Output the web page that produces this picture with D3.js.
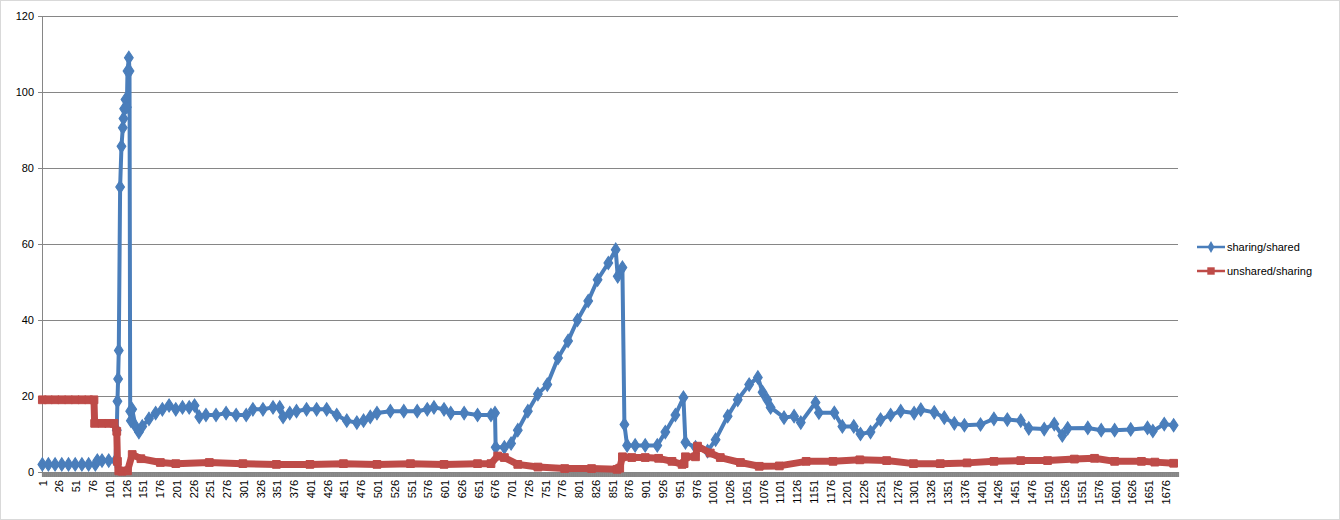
<!DOCTYPE html>
<html><head><meta charset="utf-8">
<script src="https://cdn.jsdelivr.net/npm/d3@7"></script>
<style>body{margin:0;background:#fff}svg{font-family:"Liberation Sans",Arial,sans-serif}</style>
</head><body><svg id="c" width="1340" height="520"></svg>
<script>
const N = 1694;
const yTicks = [0,20,40,60,80,100,120];
const seriesNames = ["sharing/shared","unshared/sharing"];
const colors = ["#4a7ebb","#be4b48"];
// sharing/shared: [category index, value]
const sharingIdx = [1,10,20,30,40,50,60,70,80,83,90,100,110,112,113,114,115,117,119,121,122,123,125,127,128,130,131,132,133,135,140,145,150,160,170,180,190,200,210,220,228,235,245,260,275,290,305,315,330,345,355,360,370,380,395,410,425,440,455,470,480,490,500,520,540,560,575,585,600,610,630,650,670,676,677,690,700,710,725,740,754,770,785,799,815,829,845,856,859,866,869,873,885,900,918,930,945,957,960,975,993,1005,1023,1038,1055,1068,1075,1082,1087,1107,1122,1132,1154,1159,1182,1194,1211,1221,1236,1251,1266,1281,1301,1311,1331,1346,1361,1376,1400,1420,1440,1460,1472,1495,1510,1522,1530,1560,1580,1600,1624,1649,1657,1674,1688];
const sharingVal = [2,2,2,2,2,2,2,2,2,3,3,3,3,11,18.6,24.5,32,75,85.7,90.6,93,95.6,98,96,105.5,109,105.5,16,13.5,16.5,12,10.5,12,14,15.5,16.5,17.5,16.5,17,17,17.5,14.5,15,15,15.5,15,15,16.5,16.5,17,17,14.5,15.5,16,16.5,16.5,16.5,15,13.5,13,13.5,14.5,15.5,16,16,16,16.5,17,16.5,15.5,15.5,15,15,15.5,6.5,6.5,7.5,11,16,20.5,23,30,34.5,40,45,50.6,55,58.5,51.5,53.8,12.5,7,7,7,7,10.5,15,19.6,7.8,6.5,5.5,8.5,14.7,19,23,24.9,21,19,17,14.3,14.7,13,18.3,15.6,15.6,12,12,10,10.5,13.8,15,16,15.5,16.4,15.7,14.3,12.8,12.3,12.5,14,13.8,13.5,11.5,11.3,12.6,9.6,11.5,11.6,11,11,11.2,11.6,10.8,12.6,12.3];
// unshared/sharing
const unsharedIdx = [1,10,20,30,40,50,60,70,78,79,90,100,108,112,113,115,120,128,135,148,177,200,250,300,350,400,450,500,550,600,650,670,680,690,710,740,780,820,858,862,866,880,900,920,940,955,958,960,975,978,997,1012,1042,1070,1100,1140,1180,1220,1260,1300,1340,1380,1420,1460,1500,1540,1570,1600,1640,1660,1688];
const unsharedVal = [19,19,19,19,19,19,19,19,19,12.8,12.8,12.8,12.8,10.7,2.8,0.3,0.2,0.3,4.6,3.5,2.5,2.2,2.5,2.2,2,2,2.2,2,2.2,2,2.2,2.2,4.2,3.8,2,1.3,0.9,0.9,0.7,1,4,3.8,3.8,3.6,2.8,2,2.2,4,4,6.8,5,3.8,2.5,1.5,1.6,2.8,2.8,3.2,3,2.2,2.2,2.4,2.8,3,3,3.4,3.6,2.8,2.8,2.6,2.3];

const svg = d3.select("#c");
svg.append("rect").attr("x",0.5).attr("y",0.5).attr("width",1339).attr("height",519).attr("fill","#fff").attr("stroke","#d9d9d9");
const L=42,R=1178,T=16,B=472;
const x = d3.scaleLinear().domain([0.5,N+0.5]).range([L,R]);
const y = d3.scaleLinear().domain([0,120]).range([B,T]);

svg.append("g").selectAll("line").data(yTicks.filter(d=>d>0)).join("line")
  .attr("x1",L).attr("x2",R).attr("y1",d=>y(d)+0.5).attr("y2",d=>y(d)+0.5).attr("stroke","#868686").attr("stroke-width",1);
svg.append("line").attr("x1",L+0.5).attr("x2",L+0.5).attr("y1",T).attr("y2",B).attr("stroke","#868686");
const ya = svg.append("g").attr("transform",`translate(${L},0)`).call(d3.axisLeft(y).tickValues(yTicks).tickSize(4).tickPadding(4));
ya.select(".domain").remove();
ya.selectAll("line").attr("stroke","#868686");
ya.selectAll("text").attr("font-size",11).attr("fill","#000");
// dense category ticks (form a solid band)
const allCats = d3.range(1,N+2);
const xa = svg.append("g").attr("transform",`translate(0,${B})`).call(d3.axisBottom(x).tickValues(allCats.map(d=>d-0.5)).tickSize(5).tickFormat(""));
xa.selectAll("line").attr("stroke","#868686").attr("stroke-width",1.2);
xa.select(".domain").attr("stroke","#868686");
const labCats = d3.range(1,N,25);
const xl = svg.append("g").attr("transform",`translate(0,${B})`).call(d3.axisBottom(x).tickValues(labCats).tickSize(0).tickPadding(0).tickFormat(d3.format("d")));
xl.select(".domain").remove();
xl.selectAll("text").attr("font-size",11).attr("fill","#000")
  .attr("transform","rotate(-90)").attr("text-anchor","end").attr("x",-8).attr("y",0).attr("dy","0.35em");

function drawSeries(idx, vals, color, shape, lw, msize){
  const pts = idx.map((d,i)=>[d,vals[i]]);
  const line = d3.line().x(d=>x(d[0])).y(d=>y(d[1]));
  svg.append("path").datum(pts).attr("d",line).attr("fill","none").attr("stroke",color).attr("stroke-width",lw).attr("stroke-linejoin","round");
  const sym = d3.symbol().type(shape).size(msize);
  svg.append("g").selectAll("path").data(pts).join("path")
    .attr("transform",d=>`translate(${x(d[0])},${y(d[1])})${shape===d3.symbolDiamond?" scale(1.15,1)":""}`)
    .attr("d",sym).attr("fill",color).attr("stroke",color).attr("stroke-width",1);
}
drawSeries(sharingIdx, sharingVal, colors[0], d3.symbolDiamond, 4, 50);
drawSeries(unsharedIdx, unsharedVal, colors[1], d3.symbolSquare, 7, 60);

const shapes=[d3.symbolDiamond,d3.symbolSquare];
seriesNames.forEach((n,i)=>{
  const g=svg.append("g").attr("transform",`translate(1197,${247+i*24})`);
  g.append("line").attr("x1",0).attr("x2",28).attr("stroke",colors[i]).attr("stroke-width",2.5);
  g.append("path").attr("transform","translate(14,0)").attr("d",d3.symbol().type(shapes[i]).size(i?55:40)()).attr("fill",colors[i]);
  g.append("text").attr("x",30).attr("dy","0.35em").attr("font-size",11).text(n);
});
</script></body></html>
